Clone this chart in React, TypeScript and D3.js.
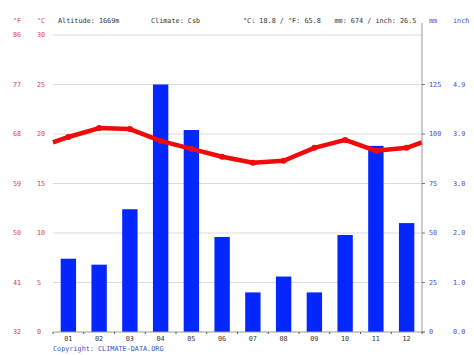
import React from 'react'
import * as d3 from 'd3'

// monthly climate values
const months = ['01', '02', '03', '04', '05', '06', '07', '08', '09', '10', '11', '12']
const tempC = [19.7, 20.6, 20.5, 19.3, 18.5, 17.7, 17.1, 17.3, 18.6, 19.4, 18.3, 18.6]
const precipMm = [37, 34, 62, 125, 102, 48, 20, 28, 20, 49, 94, 55]

// axis ticks
const celsiusTicks = [0, 5, 10, 15, 20, 25, 30]
const fahrenheitLabels = ['32', '41', '50', '59', '68', '77', '86']
const mmTicks = [0, 25, 50, 75, 100, 125]
const inchLabels = ['0.0', '1.0', '2.0', '3.0', '3.9', '4.9']

const headerLeft = 'Altitude: 1669m'
const headerClimate = 'Climate: Csb'
const headerTemp = '°C: 18.8 / °F: 65.8'
const headerPrecip = 'mm: 674 / inch: 26.5'

const W = 474
const H = 355
const left = 53
const right = 422
const top = 35
const bottom = 332

const font = '"DejaVu Sans Mono", monospace'
const fs = 6.8
const red = '#e8403f'
const blue = '#4a4ad8'
const ink = '#333'

const App = () => {
  const x = d3.scaleBand<string>().domain(months).range([left, right]).paddingInner(0.5).paddingOuter(0.25)
  const yT = d3.scaleLinear().domain([0, 30]).range([bottom, top])
  const yP = d3.scaleLinear().domain([0, 150]).range([bottom, top])
  const step = x.step()
  const cx = (m: string) => (x(m) as number) + x.bandwidth() / 2

  // line runs edge to edge, wrapping Dec -> Jan at both ends
  const edge = (tempC[11] + tempC[0]) / 2
  const pts: [number, number][] = [
    [left, yT(edge)],
    ...months.map((m, i) => [cx(m), yT(tempC[i])] as [number, number]),
    [right, yT(edge)],
  ]
  const line = d3.line().curve(d3.curveLinear)(pts) as string

  return (
    <svg width={W} height={H} style={{ position: 'absolute', left: 0, top: 0, background: '#fff' }}>
      <g fontFamily={font} fontSize={fs}>
        {/* header */}
        <text x={13} y={23} fill={red}>°F</text>
        <text x={37} y={23} fill={red}>°C</text>
        <text x={58} y={23} fill={ink}>{headerLeft}</text>
        <text x={151} y={23} fill={ink}>{headerClimate}</text>
        <text x={243} y={23} fill={ink}>{headerTemp}</text>
        <text x={334.5} y={23} fill={ink}>{headerPrecip}</text>
        <text x={429} y={23} fill={blue}>mm</text>
        <text x={453} y={23} fill={blue}>inch</text>

        {/* grid */}
        {celsiusTicks.slice(1).map((t) => (
          <line key={t} x1={left} x2={right} y1={yT(t)} y2={yT(t)} stroke="#dcdcdc" strokeWidth={1} />
        ))}

        {/* left labels */}
        {celsiusTicks.map((t, i) => (
          <g key={t} fill={red}>
            <text x={13} y={yT(t)} dy="0.35em">{fahrenheitLabels[i]}</text>
            <text x={37} y={yT(t)} dy="0.35em">{t}</text>
          </g>
        ))}

        {/* precipitation bars */}
        {months.map((m, i) => (
          <rect key={m} x={x(m)} y={yP(precipMm[i])} width={x.bandwidth()} height={bottom - yP(precipMm[i])} fill="#0527ff" />
        ))}

        {/* temperature line */}
        <path d={line} fill="none" stroke="#f00a0a" strokeWidth={4.5} strokeLinejoin="round" />
        {months.map((m, i) => (
          <circle key={m} cx={cx(m)} cy={yT(tempC[i])} r={3} fill="#f00a0a" />
        ))}

        {/* axes */}
        <line x1={right} x2={right} y1={23} y2={bottom} stroke="#999" strokeWidth={1} />
        <line x1={left} x2={right + 3} y1={bottom} y2={bottom} stroke="#999" strokeWidth={1} />
        {d3.range(0, 13).map((i) => (
          <line key={i} x1={left + i * step} x2={left + i * step} y1={bottom} y2={bottom + 2} stroke="#555" strokeWidth={1} />
        ))}
        {mmTicks.map((t, i) => (
          <g key={t}>
            <line x1={right} x2={right + 3} y1={yP(t)} y2={yP(t)} stroke="#777" strokeWidth={1} />
            <text x={429} y={yP(t)} dy="0.35em" fill={blue}>{t}</text>
            <text x={453} y={yP(t)} dy="0.35em" fill={blue}>{inchLabels[i]}</text>
          </g>
        ))}

        {/* months */}
        {months.map((m) => (
          <text key={m} x={cx(m)} y={341} textAnchor="middle" fill={ink}>{m}</text>
        ))}

        <text x={53} y={351} fill="#3355cc">Copyright: CLIMATE-DATA.ORG</text>
      </g>
    </svg>
  )
}

export default App
